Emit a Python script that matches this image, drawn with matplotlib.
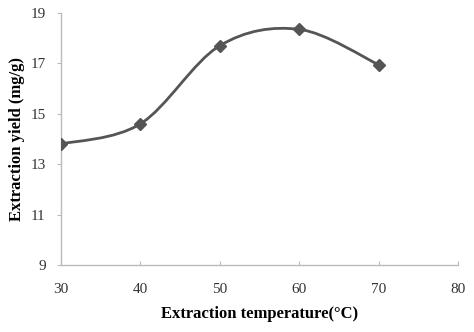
import numpy as np
import matplotlib
matplotlib.use("Agg")
import matplotlib.pyplot as plt
from matplotlib.path import Path
from matplotlib.patches import PathPatch

temperature = [30, 40, 50, 60, 70]
yield_mg = [13.8, 14.6, 17.7, 18.35, 16.95]
x_ticks = [30, 40, 50, 60, 70, 80]
y_ticks = [9, 11, 13, 15, 17, 19]

plt.rcParams["font.family"] = ["Liberation Serif", "DejaVu Serif"]

fig = plt.figure(figsize=(4.74, 3.32), dpi=100)
ax = fig.add_axes([0.1287, 0.2018, 0.8373, 0.7592])

# Excel-style smoothed line: cubic Bezier segments through the data points
pts = np.column_stack([temperature, yield_mg]).astype(float)
verts = [pts[0]]
codes = [Path.MOVETO]
n = len(pts)
for i in range(n - 1):
    p0 = pts[i - 1] if i > 0 else pts[i]
    p1, p2 = pts[i], pts[i + 1]
    p3 = pts[i + 2] if i + 2 < n else pts[i + 1]
    c1 = p1 + (p2 - p0) / 6.0
    c2 = p2 - (p3 - p1) / 6.0
    verts += [c1, c2, p2]
    codes += [Path.CURVE4] * 3
ax.add_patch(PathPatch(Path(verts, codes), facecolor="none",
                       edgecolor="#555555", lw=2.0, zorder=2))
ax.plot(temperature, yield_mg, ls="none", marker="D", ms=6,
        color="#555555", zorder=3)

ax.set_xlim(30, 80)
ax.set_ylim(9, 19)
ax.set_xticks(x_ticks)
ax.set_yticks(y_ticks)

for side in ["top", "right"]:
    ax.spines[side].set_visible(False)
for side in ["left", "bottom"]:
    ax.spines[side].set_color("#bbbbbb")
    ax.spines[side].set_linewidth(1.0)

ax.tick_params(axis="x", direction="in", length=3, color="#bbbbbb",
               labelsize=11, labelcolor="#333333", pad=13)
ax.tick_params(axis="y", direction="out", length=3, color="#bbbbbb",
               labelsize=11, labelcolor="#333333", pad=8)

ax.set_xlabel("Extraction temperature(°C)", fontsize=12,
              fontweight="bold", labelpad=7)
ax.set_ylabel("Extraction yield (mg/g)", fontsize=12,
              fontweight="bold", labelpad=4)

fig.savefig("out.png", dpi=100)
